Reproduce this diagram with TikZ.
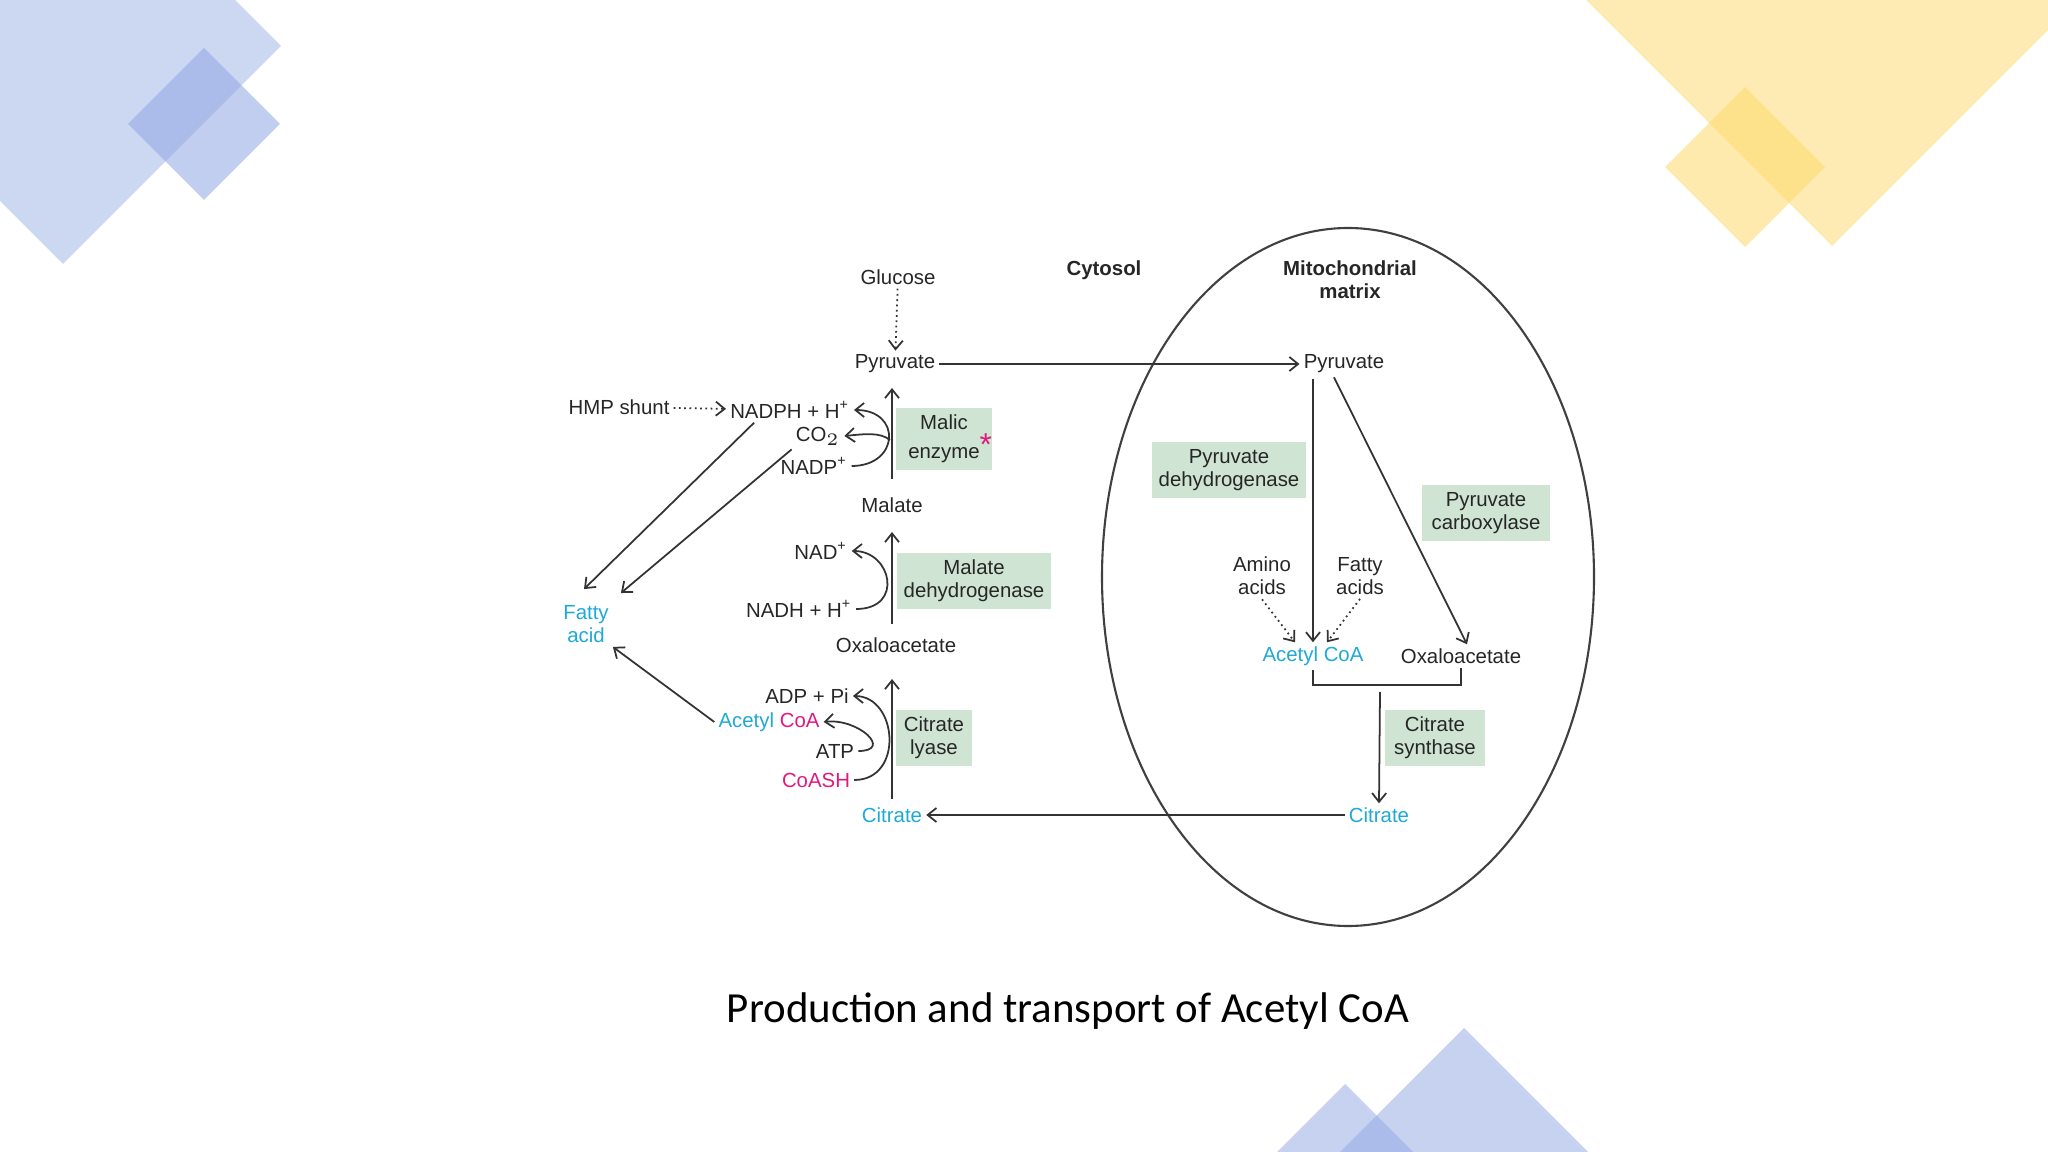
\documentclass[tikz,border=0pt]{standalone}
\usepackage{fontspec}
\setmainfont{Liberation Sans}
\newfontfamily\capfont{Carlito}
\usetikzlibrary{arrows.meta,calc}
\definecolor{enzgreen}{HTML}{CFE4D3}
\definecolor{acblue}{HTML}{1FA9D6}
\definecolor{coamag}{HTML}{E0197D}
\definecolor{decoblue}{HTML}{8FA6E3}
\definecolor{decoyellow}{HTML}{FDD86A}
\begin{document}
\begin{tikzpicture}[x=0.01cm, y=-0.01cm, >={Straight Barb[length=2.5pt,width=4pt]}]
\tikzset{
    lbl/.style={font=\fontsize{5.8}{6.6}\selectfont, text=black!85, align=center, inner sep=1pt},
    enz/.style={lbl, fill=enzgreen, minimum height=0.52cm, inner sep=2pt},
    rxn/.style={draw=black!80, line width=0.5pt},
    dotarrow/.style={rxn, densely dotted, ->}
}
  \useasboundingbox (0,0) rectangle (2048,1152);
  % decoration
  \fill[decoblue, opacity=0.45] (63,-172) -- (281,46) -- (63,264) -- (-155,46) -- cycle;
  \fill[decoblue, opacity=0.55] (204,48) -- (280,124) -- (204,200) -- (128,124) -- cycle;
  \fill[decoyellow, opacity=0.5] (1832,-258) -- (2084,-6) -- (1832,246) -- (1580,-6) -- cycle;
  \fill[decoyellow, opacity=0.55] (1745,87) -- (1825,167) -- (1745,247) -- (1665,167) -- cycle;
  \fill[decoblue, opacity=0.5] (1464,1028) -- (1644,1208) -- (1464,1388) -- (1284,1208) -- cycle;
  \fill[decoblue, opacity=0.5] (1345,1084) -- (1431,1170) -- (1345,1256) -- (1259,1170) -- cycle;

  % cytosol
  \node[lbl] (glucose) at (898,277) {Glucose};
  \node[lbl] (pyrC) at (895,364) {Pyruvate};
  \node[lbl, font=\fontsize{5.8}{6.6}\selectfont\bfseries] (cytosol) at (1104,270) {Cytosol};
  \node[lbl] (malate) at (892,505) {Malate};
  \node[lbl] (oaaC) at (896,645) {Oxaloacetate};
  \node[lbl, text=acblue] (citC) at (892,815) {Citrate};
  \node[enz, minimum width=0.95cm] (ME) at (944,439) {Malic\\enzyme\rlap{\textcolor{coamag}{\raisebox{1pt}{\fontsize{9}{9}\selectfont*}}}};
  \node[enz, minimum width=1.53cm] (MDH) at (974,581) {Malate\\dehydrogenase};
  \node[enz, minimum width=0.76cm] (CL) at (934,738) {Citrate\\lyase};
  \node[lbl] (hmp) at (619,407) {HMP shunt};
  \node[lbl] (nadph) at (790,410) {NADPH + H\textsuperscript{+}};
  \node[lbl] (co2) at (818,436) {CO$_2$};
  \node[lbl] (nadp) at (814,466) {NADP\textsuperscript{+}};
  \node[lbl] (nad) at (821,551) {NAD\textsuperscript{+}};
  \node[lbl] (nadh) at (799,609) {NADH + H\textsuperscript{+}};
  \node[lbl] (adp) at (807,696) {ADP + Pi};
  \node[lbl] (acoaC) at (769,722) {\textcolor{acblue}{Acetyl} \textcolor{coamag}{CoA}};
  \node[lbl] (atp) at (835,751) {ATP};
  \node[lbl, text=coamag] (coash) at (816,780) {CoASH};
  \node[lbl, text=acblue] (fatty) at (586,624) {Fatty\\acid};
  \coordinate (meS) at (892,479);
  \coordinate (meE) at (892,388);
  \coordinate (mdhS) at (892,624);
  \coordinate (mdhE) at (892,532);
  \coordinate (clS) at (892,799);
  \coordinate (clE) at (892,679);

  % mitochondrion
  \draw[black!75, line width=0.6pt] (1348,577) ellipse (246 and 349);
  \node[lbl, font=\fontsize{5.8}{6.6}\selectfont\bfseries] (matrix) at (1350,280) {Mitochondrial\\matrix};
  \node[lbl] (pyrM) at (1344,364) {Pyruvate};
  \node[enz, minimum width=1.54cm] (PDH) at (1229,470) {Pyruvate\\dehydrogenase};
  \node[enz, minimum width=1.27cm, minimum height=0.5cm] (PC) at (1486,513) {Pyruvate\\carboxylase};
  \node[lbl] (amino) at (1262,576) {Amino\\acids};
  \node[lbl] (fattyM) at (1360,576) {Fatty\\acids};
  \node[lbl, text=acblue] (acoaM) at (1313,656) {Acetyl CoA};
  \node[lbl] (oaaM) at (1461,656) {Oxaloacetate};
  \node[enz, minimum width=0.99cm] (CS) at (1435,738) {Citrate\\synthase};
  \node[lbl, text=acblue] (citM) at (1379,815) {Citrate};
  \coordinate (pdhS) at (1313,379);
  \coordinate (join) at (1380,692);

  % connectors
  \draw[dotarrow] (glucose) -- (pyrC);
  \draw[rxn, ->] (pyrC) -- (pyrM);
  \draw[rxn, ->] (meS) -- (meE);
  \draw[rxn, ->] (mdhS) -- (mdhE);
  \draw[rxn, ->] (clS) -- (clE);
  \draw[rxn, ->] (nadp.east) .. controls +(48,0) and +(48,0) .. (nadph.east);
  \draw[rxn, ->] (890,440) .. controls (880,432) and (865,434) .. (co2.east);
  \draw[rxn, ->] (nadh.east) .. controls +(48,0) and +(40,0) .. (nad.east);
  \draw[rxn, ->] (coash.east) .. controls +(50,0) and +(45,0) .. (adp.east);
  \draw[rxn, ->] (atp.east) .. controls +(35,0) and +(35,-4) .. (acoaC.east);
  \draw[dotarrow] (hmp) -- (nadph);
  \draw[rxn, ->] ($(nadph.south west)+(28,0)$) -- ($(fatty.north)+(-2,-12)$);
  \draw[rxn, ->] (co2.south west) -- ($(fatty.north east)+(8,-8)$);
  \draw[rxn, ->] (acoaC.west) -- (fatty.south east);
  \draw[rxn, ->] (citM) -- (citC);
  \draw[rxn, ->] (pdhS) -- (acoaM.north);
  \draw[rxn, ->] ($(pyrM.south)+(-10,0)$) -- ($(oaaM.north)+(6,0)$);
  \draw[dotarrow] (amino.south) -- ($(acoaM.north)+(-18,0)$);
  \draw[dotarrow] (fattyM.south) -- ($(acoaM.north)+(14,0)$);
  \draw[rxn] (acoaM.south) -- ++(0,15) -| (oaaM.south);
  \draw[rxn, ->] (join) -- (citM.north);

  % caption
  \node[font=\capfont\fontsize{12.2}{14}\selectfont] (caption) at (1068,1011) {Production and transport of Acetyl CoA};
\end{tikzpicture}
\end{document}
